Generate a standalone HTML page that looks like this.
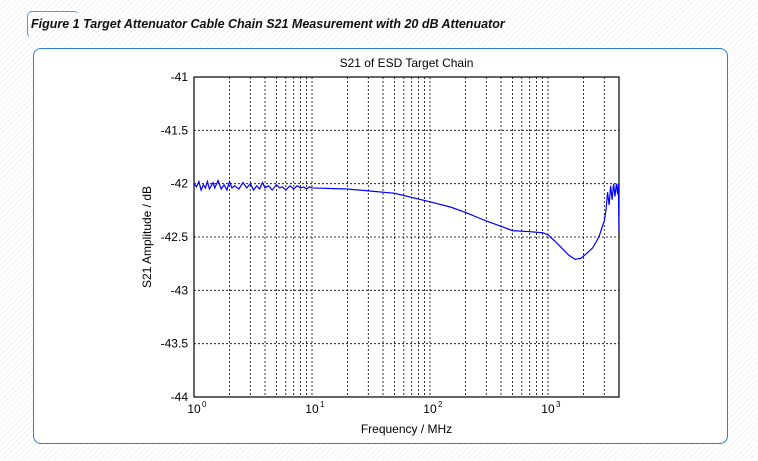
<!DOCTYPE html>
<html><head><meta charset="utf-8"><style>
body{margin:0;width:758px;height:461px;overflow:hidden;background:#fff;font-family:"Liberation Sans",sans-serif;
background-image:repeating-linear-gradient(135deg,#fff 0 3px,#f3f3f3 3px 4px);}
#title{position:absolute;left:31px;top:17px;font:italic bold 12.5px "Liberation Sans",sans-serif;color:#111;}
#tab{position:absolute;left:27px;top:11px;width:50px;height:25px;border:1.5px solid #4aa3e0;border-radius:5px;border-right-color:transparent;border-bottom-color:transparent;}
#frame{position:absolute;left:33px;top:48px;width:693px;height:394px;border:1.5px solid #2a7fd0;border-radius:8px;background:#fff;}
svg{position:absolute;left:0;top:0}
</style></head><body>
<div id="tab"></div>
<div id="title">Figure 1 Target Attenuator Cable Chain S21 Measurement with 20 dB Attenuator</div>
<div id="frame"></div>
<svg id="chart" width="758" height="461"></svg>
<script>
const yTicks=[-41,-41.5,-42,-42.5,-43,-43.5,-44];
const yTickLabels=["-41","-41.5","-42","-42.5","-43","-43.5","-44"];
const xDecades=[1,10,100,1000];
const noiseFreq=[1,1.05,1.1,1.15,1.2,1.25,1.3,1.35,1.4,1.45,1.5,1.6,1.7,1.8,1.9,2,2.1,2.2,2.4,2.6,2.8,3,3.2,3.4,3.6,3.8,4,4.3,4.6,5,5.3,5.6,6,6.5,7,7.5,8,8.5,9,9.5,10];
const noiseVal=[-42.0,-42.03,-41.98,-42.06,-42.01,-42.04,-41.98,-42.05,-42.02,-41.99,-42.04,-41.97,-42.05,-42.01,-42.06,-41.98,-42.04,-42.02,-42.05,-41.99,-42.04,-42.0,-42.06,-42.02,-42.05,-41.99,-42.04,-42.02,-42.06,-42.01,-42.04,-42.03,-42.06,-42.02,-42.05,-42.02,-42.04,-42.03,-42.05,-42.03,-42.04];
const smoothFreq=[10,20,50,100,150,200,300,400,500,700,900,1000,1150,1300,1500,1700,1900,2100,2400,2700,3000,3100,3200,3300,3400,3500,3600,3700,3800,3900,3950,4000];
const smoothVal=[-42.04,-42.05,-42.09,-42.17,-42.22,-42.27,-42.35,-42.4,-42.44,-42.45,-42.46,-42.48,-42.54,-42.6,-42.67,-42.71,-42.7,-42.66,-42.6,-42.5,-42.35,-42.25,-42.08,-42.2,-42.02,-42.15,-42.0,-42.12,-42.0,-42.1,-42.0,-42.45];
const svg=document.getElementById('chart'),NS='http://www.w3.org/2000/svg';
const L=194,R=619,T=77,B=397;
const xs=f=>L+Math.log10(f)/Math.log10(4000)*(R-L);
const ys=v=>T+(-41-v)/3*(B-T);
function mk(t,a,txt){const e=document.createElementNS(NS,t);for(const k in a)e.setAttribute(k,a[k]);if(txt!=null)e.textContent=txt;svg.appendChild(e);return e;}
for(let d=0;d<4;d++)for(let m=1;m<10;m++){const f=Math.pow(10,d)*m;if(f>4000||f===1)continue;
const g=mk('line',{x1:xs(f),x2:xs(f),y1:T,y2:B,stroke:'#000','stroke-width':0.8,'stroke-dasharray':'2,2'});
}
yTicks.forEach((v,i)=>{if(i>0&&i<yTicks.length-1){const g=mk('line',{x1:L,x2:R,y1:ys(v),y2:ys(v),stroke:'#000','stroke-width':0.8,'stroke-dasharray':'2,2'});
}
const t=mk('text',{x:L-6,y:ys(v)+4,'text-anchor':'end','font-size':12},yTickLabels[i]);
});
xDecades.forEach((f,i)=>{const t=mk('text',{x:xs(f),y:B+16,'text-anchor':'middle','font-size':12},'10');

const s=mk('text',{x:xs(f)+8,y:B+10,'font-size':8},String(i));});
const ax=mk('rect',{x:L,y:T,width:R-L,height:B-T,fill:'none',stroke:'#000','stroke-width':1.2});

const fr=noiseFreq.concat(smoothFreq.slice(1)),vl=noiseVal.concat(smoothVal.slice(1));
const p=mk('polyline',{points:fr.map((f,i)=>xs(f)+','+ys(vl[i])).join(' '),fill:'none',stroke:'#0000ff','stroke-width':1.2});

const ct=mk('text',{x:(L+R)/2,y:T-10,'text-anchor':'middle','font-size':12},'S21 of ESD Target Chain');

const xt=mk('text',{x:(L+R)/2,y:B+36,'text-anchor':'middle','font-size':12},'Frequency / MHz');

const yt=mk('text',{x:0,y:0,'text-anchor':'middle','font-size':12,transform:`translate(151,${(T+B)/2}) rotate(-90)`},'S21 Amplitude / dB');

</script>
</body></html>
